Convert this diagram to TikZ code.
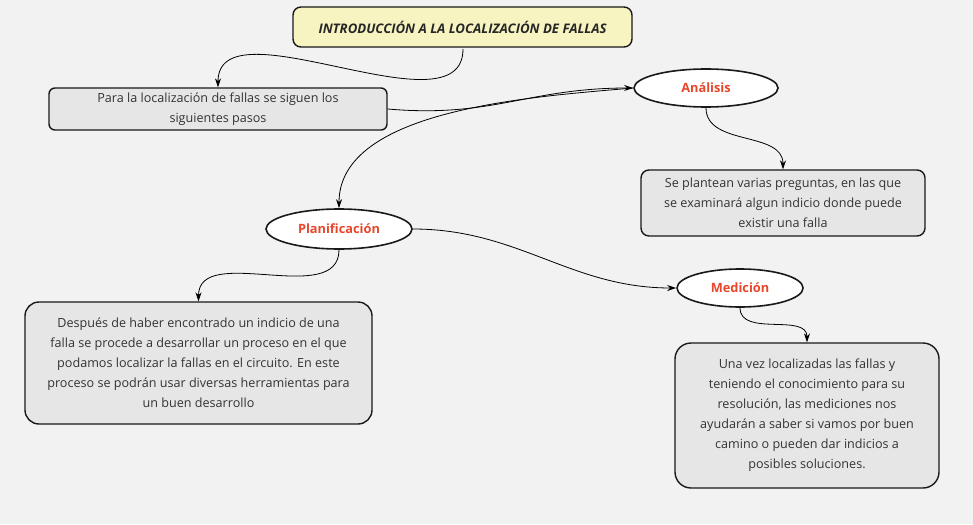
\documentclass[tikz,border=0pt]{standalone}
\usepackage{fontspec}
\setmainfont{Open Sans}
\usetikzlibrary{arrows.meta,shapes.geometric}
\definecolor{bg}{HTML}{F2F2F2}
\definecolor{boxfill}{HTML}{E6E6E6}
\definecolor{titlefill}{HTML}{F8F4C2}
\definecolor{redtxt}{HTML}{E8472C}
\definecolor{txt}{HTML}{333333}
\tikzset{
 box/.style={draw=black!90, line width=1.4pt, rounded corners=8pt, fill=boxfill, align=center, text=txt, font=\fontsize{12.6}{20}\selectfont, inner sep=0pt},
 oval/.style={draw=black!90, line width=1.6pt, ellipse, fill=white, text=redtxt, font=\bfseries\fontsize{12.8}{15}\selectfont, inner sep=0pt},
 conn/.style={-{Stealth[length=9pt,width=6pt]}, line width=0.8pt}
}
\begin{document}
\begin{tikzpicture}[x=1pt,y=-1pt]
\fill[bg] (0,0) rectangle (973,524);
\useasboundingbox (0,0) rectangle (973,524);
\node[box, fill=titlefill, minimum width=339, minimum height=40, font=\bfseries\itshape\fontsize{13.2}{15}\selectfont, text=black!85] (title) at (462.5,27) {INTRODUCCIÓN A LA LOCALIZACIÓN DE FALLAS};
\node[box, minimum width=338, minimum height=42, rounded corners=6pt] (pasos) at (218,109) {Para la localización de fallas se siguen los\\siguientes pasos};
\node[oval, minimum width=144, minimum height=38] (analisis) at (706,88) {Análisis};
\node[box, minimum width=284, minimum height=66] (preg) at (783,203) {Se plantean varias preguntas, en las que\\se examinará algun indicio donde puede\\existir una falla};
\node[oval, minimum width=146, minimum height=40] (plan) at (339,229) {Planificación};
\node[box, minimum width=347, minimum height=122, rounded corners=14pt] (desp) at (198.5,363) {Después de haber encontrado un indicio de una\\falla se procede a desarrollar un proceso en el que\\podamos localizar la fallas en el circuito. En este\\proceso se podrán usar diversas herramientas para\\un buen desarrollo};
\node[oval, minimum width=126, minimum height=38] (med) at (740,288) {Medición};
\node[box, minimum width=264, minimum height=145, rounded corners=16pt] (una) at (807,415.5) {Una vez localizadas las fallas y\\teniendo el conocimiento para su\\resolución, las mediciones nos\\ayudarán a saber si vamos por buen\\camino o pueden dar indicios a\\posibles soluciones.};
\coordinate (t0) at (463,49);
\draw[conn] (t0) to[out=-90,in=90,looseness=0.9] (pasos.north);
\draw[conn] (pasos.east) to[out=-5,in=180,looseness=1.1] (analisis.west);
\draw[conn] (analisis.west) to[out=185,in=90,looseness=0.8] (plan.north);
\draw[conn] (analisis.south) to[out=-90,in=90] (preg.north);
\draw[conn] (plan.east) to[out=0,in=180] (med.west);
\draw[conn] (plan.south) to[out=-90,in=90] (desp.north);
\draw[conn] (med.south) to[out=-90,in=90] (una.north);
\end{tikzpicture}
\end{document}
